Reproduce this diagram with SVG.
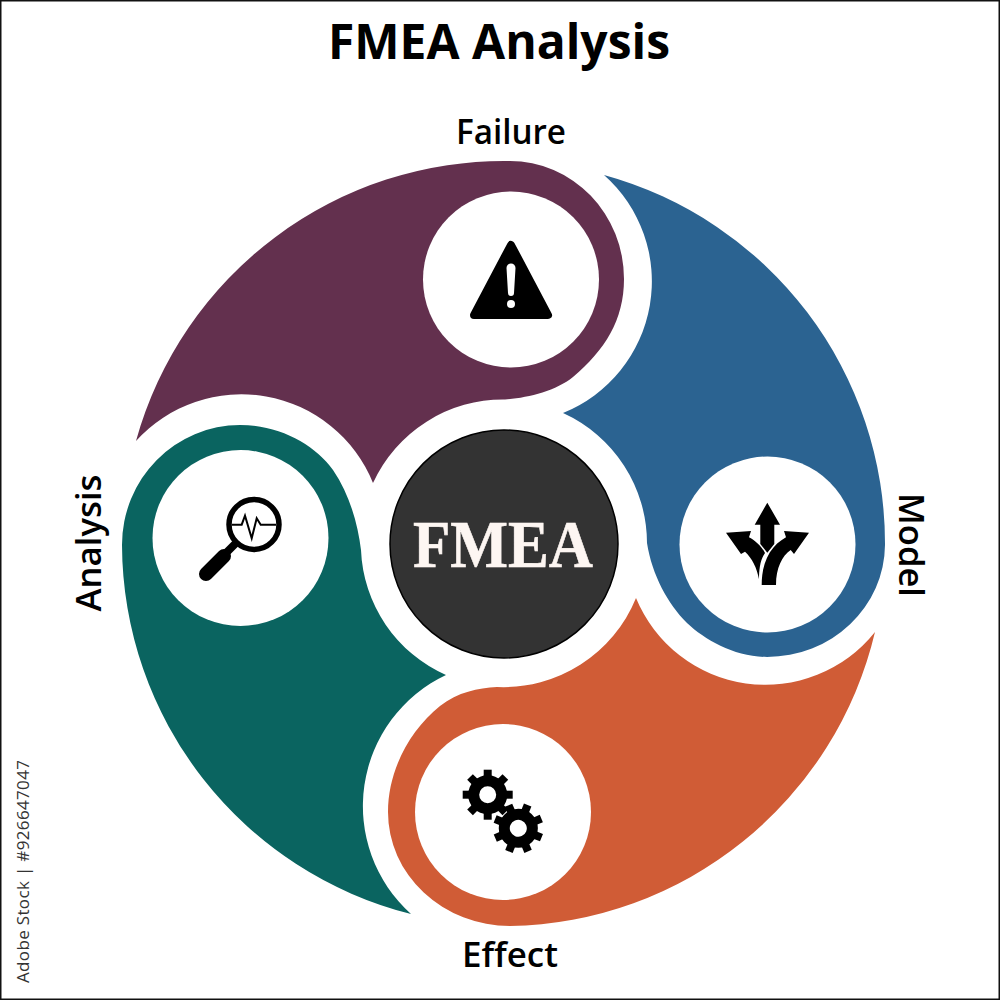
<svg xmlns="http://www.w3.org/2000/svg" width="1000" height="1000" viewBox="0 0 1000 1000">
<style>
.lbl{font-family:"Open Sans","Liberation Sans",sans-serif;font-weight:600;font-size:34px;fill:#000;text-anchor:middle}
.badge{fill:#fff}
.ic{fill:#000}
</style>
<defs>
<g id="gear">
<circle r="14" fill="none" stroke="#000" stroke-width="11"/>
<g class="ic">
<rect x="-4" y="-25" width="8" height="8"/>
<rect x="-4" y="-25" width="8" height="8" transform="rotate(45)"/>
<rect x="-4" y="-25" width="8" height="8" transform="rotate(90)"/>
<rect x="-4" y="-25" width="8" height="8" transform="rotate(135)"/>
<rect x="-4" y="-25" width="8" height="8" transform="rotate(180)"/>
<rect x="-4" y="-25" width="8" height="8" transform="rotate(225)"/>
<rect x="-4" y="-25" width="8" height="8" transform="rotate(270)"/>
<rect x="-4" y="-25" width="8" height="8" transform="rotate(315)"/>
</g>
</g>
</defs>
<rect width="1000" height="1000" fill="#fff"/>
<rect x="0.75" y="0.75" width="998.5" height="998.5" fill="none" stroke="#111" stroke-width="1.5"/>
<text x="499" y="59" text-anchor="middle" textLength="342" lengthAdjust="spacingAndGlyphs" style="font-family:'Open Sans','Liberation Sans',sans-serif;font-weight:700;font-size:48px" fill="#000">FMEA Analysis</text>

<g id="connectors"></g>

<g id="node-failure">
<path fill="#63304e" d="M136,441 A382,382 0 0 1 510,161 A114,118 0 0 1 624,279 C624,320 605,350 573,377 C556,391 527,398 505,399.5 A143,143 0 0 0 373,483 A142,142 0 0 0 136,441 Z"/>
<circle class="badge" cx="511" cy="279.5" r="88"/>
<path class="ic" stroke="#000" stroke-width="8" stroke-linejoin="round" d="M511,245 L548,315 L474,315 Z"/>
<path fill="#fff" d="M506.5,268 a4.5,4.5 0 0 1 9,0 L514,293 a3,3 0 0 1 -6,0 Z"/>
<circle fill="#fff" cx="511" cy="304" r="4"/>
<text class="lbl" x="511" y="144" textLength="110" lengthAdjust="spacingAndGlyphs">Failure</text>
</g>

<g id="node-model">
<path fill="#2b6391" d="M604,175 A382,382 0 0 1 885,545 A118,113 0 0 1 767,657 C735,657 705,640 687,623 C668,604 652,575 647,543 A143,143 0 0 0 563,413 A142,142 0 0 0 604,175 Z"/>
<circle class="badge" cx="767.5" cy="544.5" r="88"/>
<path class="ic" d="M767.3,502.7 L780,524.7 L774.3,524.7 L774.3,544 L767.3,552.7 L760.3,544 L760.3,524.7 L754.7,524.7 Z"/>
<path class="ic" d="M726,532.7 L751,531 L749,537.3 C756,541 762,547 765,553 C760,560 759,570 759,579.3 C757,568 752,558 745,551.7 L741,554 Z"/>
<path class="ic" d="M809,532.7 L784,531 L786,537.3 C772,545 761.7,560 761.7,585 L776,585 C776,568 782,556 790.7,550 L794,554 Z"/>
<text class="lbl" transform="translate(899,545) rotate(90)" textLength="104" lengthAdjust="spacingAndGlyphs">Model</text>
</g>

<g id="node-effect">
<path fill="#d05c36" d="M875,632 A382,382 0 0 1 510,926 A122,114 0 0 1 388,812 C388,770 410,730 440,706 C458,692 478,688 497,687 A143,143 0 0 0 636,598 A140,140 0 0 0 875,632 Z"/>
<circle class="badge" cx="503" cy="812" r="88"/>
<use href="#gear" transform="translate(487.7,794.7)"/>
<use href="#gear" transform="translate(518.3,828.3) rotate(22)"/>
<text class="lbl" x="510" y="967" textLength="96" lengthAdjust="spacingAndGlyphs">Effect</text>
</g>

<g id="node-analysis">
<path fill="#0a6460" d="M411,914 A382,382 0 0 1 122,545 A118,120 0 0 1 240,425 C280,425 315,445 333,470 C350,495 358,525 361,550 A143,143 0 0 0 446,675 A145,145 0 0 0 411,914 Z"/>
<circle class="badge" cx="240.5" cy="538" r="88"/>
<circle cx="254" cy="524.5" r="25" fill="none" stroke="#000" stroke-width="5.5"/>
<path fill="none" stroke="#000" stroke-width="2" d="M231.7,524.7 L241.7,524.7 L245,515.7 L251.7,538.3 L256.7,518.3 L260.7,524.7 L276,524.7"/>
<path fill="none" stroke="#000" stroke-width="8" d="M238,541 L224,555"/>
<path fill="none" stroke="#000" stroke-width="14" stroke-linecap="round" d="M206,574 L224,556"/>
<text class="lbl" transform="translate(101,543) rotate(-90)" textLength="137" lengthAdjust="spacingAndGlyphs">Analysis</text>
</g>

<g id="node-center">
<circle cx="504" cy="544" r="114" fill="#333" stroke="#000" stroke-width="1.5"/>
<text x="503" y="566.5" text-anchor="middle" textLength="180" lengthAdjust="spacingAndGlyphs" stroke="#fdf6f2" stroke-width="0.6" style="font-family:'Liberation Serif',serif;font-weight:700;font-size:68px" fill="#fdf6f2">FMEA</text>
</g>

<text transform="translate(29,983) rotate(-90)" textLength="223" style="font-family:'Open Sans','Liberation Sans',sans-serif;font-size:17px" fill="#333">Adobe Stock | #926647047</text>
</svg>
